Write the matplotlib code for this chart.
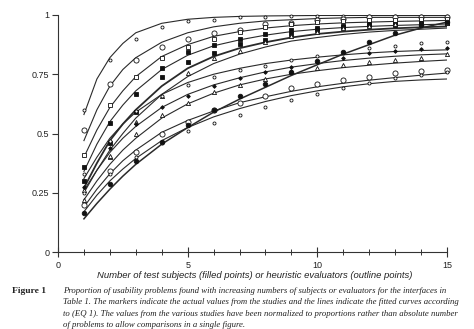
import matplotlib
matplotlib.use('Agg')
import matplotlib.pyplot as plt
from matplotlib.ticker import MultipleLocator

n = list(range(1, 16))
fit_n = [1, 1.5, 2, 2.5, 3, 4, 5, 6, 7, 8, 9, 10, 11, 12, 13, 14, 15]

# markers (actual values) and fitted curves, per interface
a_pts = [0.60, 0.81, 0.90, 0.95, 0.975, 0.98, 0.99, 0.99, 0.995, 0.995, 0.995, 0.995, 0.995, 0.995, 0.995]
a_fit = [0.58, 0.73, 0.82, 0.88, 0.925, 0.965, 0.982, 0.99, 0.994, 0.996, 0.997, 0.998, 0.998, 0.998, 0.998, 0.998, 0.998]
b_pts = [0.515, 0.71, 0.81, 0.865, 0.90, 0.925, 0.937, 0.96, 0.966, 0.98, 0.985, 0.99, 0.99, 0.99, 0.99]
b_fit = [0.47, 0.60, 0.70, 0.77, 0.82, 0.885, 0.925, 0.95, 0.965, 0.975, 0.98, 0.985, 0.988, 0.99, 0.99, 0.99, 0.99]
c_pts = [0.41, 0.62, 0.74, 0.82, 0.865, 0.90, 0.93, 0.95, 0.96, 0.97, 0.975, 0.98, 0.98, 0.985, 0.985]
c_fit = [0.40, 0.515, 0.61, 0.68, 0.74, 0.825, 0.875, 0.91, 0.93, 0.945, 0.955, 0.962, 0.967, 0.97, 0.973, 0.975, 0.977]
d_pts = [0.36, 0.545, 0.665, 0.775, 0.845, 0.875, 0.90, 0.92, 0.935, 0.945, 0.955, 0.96, 0.96, 0.965, 0.965]
d_fit = [0.34, 0.455, 0.55, 0.62, 0.68, 0.77, 0.83, 0.87, 0.895, 0.915, 0.93, 0.94, 0.947, 0.952, 0.956, 0.959, 0.962]
e_pts = [0.30, 0.46, 0.59, 0.74, 0.80, 0.84, 0.877, 0.895, 0.92, 0.937, 0.95, 0.958, 0.958, 0.96, 0.965]
e_fit = [0.27, 0.375, 0.47, 0.54, 0.60, 0.70, 0.775, 0.825, 0.86, 0.885, 0.905, 0.92, 0.93, 0.938, 0.944, 0.948, 0.952]
f_pts = [0.26, 0.40, 0.55, 0.66, 0.755, 0.82, 0.85, 0.885, 0.91, 0.93, 0.945, 0.955, 0.96, 0.96, 0.965]
f_fit = [0.25, 0.345, 0.43, 0.50, 0.565, 0.665, 0.74, 0.795, 0.835, 0.865, 0.89, 0.905, 0.918, 0.928, 0.935, 0.94, 0.945]
g_pts = [0.33, 0.47, 0.595, 0.66, 0.705, 0.74, 0.77, 0.785, 0.81, 0.827, 0.84, 0.86, 0.87, 0.88, 0.886]
g_fit = [0.31, 0.40, 0.48, 0.54, 0.59, 0.665, 0.715, 0.75, 0.775, 0.795, 0.81, 0.822, 0.832, 0.84, 0.846, 0.85, 0.853]
h_pts = [0.275, 0.44, 0.54, 0.61, 0.66, 0.70, 0.734, 0.76, 0.78, 0.80, 0.82, 0.84, 0.85, 0.855, 0.86]
h_fit = [0.26, 0.345, 0.42, 0.48, 0.53, 0.61, 0.665, 0.705, 0.735, 0.76, 0.78, 0.795, 0.808, 0.818, 0.826, 0.832, 0.836]
i_pts = [0.22, 0.405, 0.50, 0.58, 0.63, 0.675, 0.705, 0.73, 0.765, 0.776, 0.79, 0.80, 0.81, 0.82, 0.835]
i_fit = [0.22, 0.30, 0.37, 0.43, 0.48, 0.565, 0.625, 0.67, 0.705, 0.73, 0.75, 0.765, 0.778, 0.788, 0.797, 0.804, 0.81]
j_pts = [0.20, 0.34, 0.42, 0.50, 0.55, 0.60, 0.63, 0.66, 0.69, 0.71, 0.725, 0.74, 0.755, 0.765, 0.77]
j_fit = [0.19, 0.265, 0.33, 0.385, 0.43, 0.505, 0.555, 0.595, 0.63, 0.655, 0.678, 0.697, 0.712, 0.725, 0.736, 0.746, 0.755]
k_pts = [0.25, 0.33, 0.40, 0.46, 0.51, 0.545, 0.58, 0.61, 0.64, 0.667, 0.69, 0.713, 0.734, 0.745, 0.76]
k_fit = [0.17, 0.24, 0.30, 0.35, 0.395, 0.47, 0.525, 0.57, 0.605, 0.635, 0.66, 0.68, 0.697, 0.71, 0.72, 0.726, 0.73]
l_pts = [0.165, 0.287, 0.384, 0.465, 0.536, 0.60, 0.66, 0.71, 0.76, 0.805, 0.845, 0.886, 0.924, 0.958, 0.97]
l_fit = [0.14, 0.205, 0.265, 0.32, 0.37, 0.455, 0.525, 0.59, 0.645, 0.695, 0.745, 0.79, 0.835, 0.875, 0.915, 0.945, 0.97]

xticks = [0, 5, 10, 15]
xticklabels = ['0', '5', '10', '15']
yticks = [0, 0.25, 0.5, 0.75, 1]
yticklabels = ['0', '0.25', '0.5', '0.75', '1']

series = [
    (a_pts, a_fit, 'o', 2.2, False, 0.8),
    (b_pts, b_fit, 'o', 3.7, False, 0.8),
    (c_pts, c_fit, 's', 3.0, False, 0.8),
    (d_pts, d_fit, 's', 3.0, True, 0.8),
    (e_pts, e_fit, 's', 3.0, True, 1.3),
    (f_pts, f_fit, '^', 3.0, False, 0.8),
    (g_pts, g_fit, 'o', 2.2, False, 0.8),
    (h_pts, h_fit, 'D', 1.9, True, 0.8),
    (i_pts, i_fit, '^', 3.0, False, 0.8),
    (j_pts, j_fit, 'o', 3.7, False, 0.8),
    (k_pts, k_fit, 'o', 2.2, False, 0.8),
    (l_pts, l_fit, 'o', 3.3, True, 1.1),
]

fig = plt.figure(figsize=(4.74, 3.29), dpi=100)
ax = fig.add_axes([58 / 474, 1 - 252 / 329, 389 / 474, 237 / 329])

for pts, fit, mk, ms, filled, lw in series:
    ax.plot(fit_n, fit, color='#2a2a2a', lw=lw, zorder=2)
    ax.plot(n, pts, linestyle='none', marker=mk, ms=ms, mew=0.6,
            mec='#111111', mfc='#111111' if filled else 'white',
            clip_on=False, zorder=3)

ax.set_xlim(0, 15)
ax.set_ylim(0, 1)
for s in ['top', 'right']:
    ax.spines[s].set_visible(False)
for s in ['left', 'bottom']:
    ax.spines[s].set_linewidth(0.8)
    ax.spines[s].set_color('#333333')

ax.set_xticks(xticks)
ax.set_xticklabels(xticklabels, fontsize=6.5, family='Liberation Sans')
ax.xaxis.set_minor_locator(MultipleLocator(1))
ax.set_yticks(yticks)
ax.set_yticklabels(yticklabels, fontsize=6.5, family='Liberation Sans')
ax.tick_params(axis='x', which='major', direction='inout', length=7, width=0.8, pad=3, colors='#333333')
ax.tick_params(axis='x', which='minor', direction='inout', length=4.5, width=0.7, colors='#333333')
ax.tick_params(axis='y', direction='out', length=4.3, width=0.8, pad=2, colors='#333333')
for t in ax.get_xticklabels() + ax.get_yticklabels():
    t.set_color('#222222')

fig.text(255 / 474, 1 - 275 / 329,
         'Number of test subjects (filled points) or heuristic evaluators (outline points)',
         ha='center', va='center', fontsize=6.8, style='italic', family='Liberation Sans', color='#222222')

fig.text(12 / 474, 1 - 291 / 329, 'Figure 1', ha='left', va='center', fontsize=6.8,
         weight='bold', family='Liberation Serif', color='#222222')
caption = [
    'Proportion of usability problems found with increasing numbers of subjects or evaluators for the interfaces in',
    'Table 1. The markers indicate the actual values from the studies and the lines indicate the fitted curves according',
    'to (EQ 1). The values from the various studies have been normalized to proportions rather than absolute number',
    'of problems to allow comparisons in a single figure.',
]
for i, line in enumerate(caption):
    fig.text(63 / 474, 1 - (291 + 11.3 * i) / 329, line, ha='left', va='center', fontsize=6.35,
             style='italic', family='Liberation Serif', color='#222222')

fig.savefig('out.png', dpi=100)
